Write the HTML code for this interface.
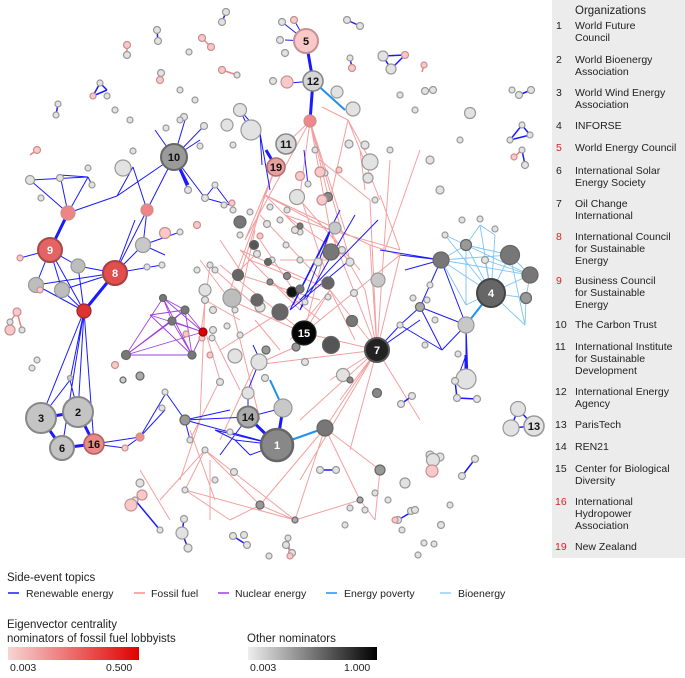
<!DOCTYPE html>
<html><head><meta charset="utf-8"><style>
body{margin:0;background:#fff;width:685px;height:673px;overflow:hidden;font-family:"Liberation Sans",sans-serif}
svg text{font-family:"Liberation Sans",sans-serif}
</style></head><body>
<svg width="685" height="673" viewBox="0 0 685 673" xmlns="http://www.w3.org/2000/svg">
<rect x="552" y="0" width="133" height="558" fill="#ececec"/>
<g font-size="10.5" fill="#222">
<text x="575" y="14" font-size="11.5">Organizations</text>
<text x="556" y="29">1</text><text x="575" y="29">World Future</text><text x="575" y="41">Council</text>
<text x="556" y="63">2</text><text x="575" y="63">World Bioenergy</text><text x="575" y="75">Association</text>
<text x="556" y="96">3</text><text x="575" y="96">World Wind Energy</text><text x="575" y="108">Association</text>
<text x="556" y="129">4</text><text x="575" y="129">INFORSE</text>
<text x="556" y="151" fill="#e02020">5</text><text x="575" y="151">World Energy Council</text>
<text x="556" y="174">6</text><text x="575" y="174">International Solar</text><text x="575" y="186">Energy Society</text>
<text x="556" y="207">7</text><text x="575" y="207">Oil Change</text><text x="575" y="219">International</text>
<text x="556" y="240" fill="#e02020">8</text><text x="575" y="240">International Council</text><text x="575" y="252">for Sustainable</text><text x="575" y="264">Energy</text>
<text x="556" y="284" fill="#e02020">9</text><text x="575" y="284">Business Council</text><text x="575" y="296">for Sustainable</text><text x="575" y="308">Energy</text>
<text x="555" y="328">10</text><text x="575" y="328">The Carbon Trust</text>
<text x="555" y="350">11</text><text x="575" y="350">International Institute</text><text x="575" y="362">for Sustainable</text><text x="575" y="374">Development</text>
<text x="555" y="395">12</text><text x="575" y="395">International Energy</text><text x="575" y="407">Agency</text>
<text x="555" y="428">13</text><text x="575" y="428">ParisTech</text>
<text x="555" y="450">14</text><text x="575" y="450">REN21</text>
<text x="555" y="472">15</text><text x="575" y="472">Center for Biological</text><text x="575" y="484">Diversity</text>
<text x="555" y="505" fill="#e02020">16</text><text x="575" y="505">International</text><text x="575" y="517">Hydropower</text><text x="575" y="529">Association</text>
<text x="555" y="550" fill="#e02020">19</text><text x="575" y="550">New Zealand</text>
</g>

<g font-size="10.5" fill="#222">
<text x="7" y="581" font-size="11.5">Side-event topics</text>
<line x1="8" y1="593" x2="19" y2="593" stroke="#1a1aff" stroke-width="1.5"/><text x="26" y="597">Renewable energy</text>
<line x1="134" y1="593" x2="145" y2="593" stroke="#f49090" stroke-width="1.5"/><text x="151" y="597">Fossil fuel</text>
<line x1="218" y1="593" x2="229" y2="593" stroke="#a040e0" stroke-width="1.5"/><text x="235" y="597">Nuclear energy</text>
<line x1="326" y1="593" x2="337" y2="593" stroke="#2090f0" stroke-width="1.5"/><text x="344" y="597">Energy poverty</text>
<line x1="440" y1="593" x2="451" y2="593" stroke="#90d0f8" stroke-width="1.5"/><text x="458" y="597">Bioenergy</text>
<text x="7" y="628" font-size="11.5">Eigenvector centrality</text>
<text x="7" y="642" font-size="11.5">nominators of fossil fuel lobbyists</text>
<text x="247" y="642" font-size="11.5">Other nominators</text>
<text x="10" y="671">0.003</text><text x="106" y="671">0.500</text>
<text x="250" y="671">0.003</text><text x="344" y="671">1.000</text>
</g>
<defs>
<linearGradient id="gr"><stop offset="0" stop-color="#f8d4d4"/><stop offset="1" stop-color="#e00000"/></linearGradient>
<linearGradient id="gk"><stop offset="0" stop-color="#eeeeee"/><stop offset="1" stop-color="#000"/></linearGradient>
</defs>
<rect x="8" y="647" width="131" height="13" fill="url(#gr)"/>
<rect x="248" y="647" width="129" height="13" fill="url(#gk)"/>

<g stroke="#f4a0a0" stroke-width="1" fill="none">
<path d="M310 121L286 144M310 121L300 195M310 121L330 230M310 121L350 260M310 121L245 240M310 121L328 195M310 121L345 230
M322 107L348 120M348 120L370 160M348 120L360 150M360 150L365 190M348 120L330 200M348 120L380 200
M276 167L265 195M276 167L245 240M276 167L230 290M265 195L240 275M265 195L300 230M265 195L330 230M265 195L370 245
M330 230L377 350M330 230L304 333M330 230L365 290M330 230L400 250M370 245L377 350M370 245L400 255M365 290L377 350
M330 290L377 350M330 290L304 333M330 290L355 340M240 250L330 290M240 250L300 310M220 265L304 333M230 300L304 333
M240 275L320 300M205 300L240 320M215 270L260 310M250 260L300 280M260 240L300 300M280 260L330 260M270 280L320 320
M220 350L300 300M215 340L240 390M230 300L260 420M205 330L220 380M255 320L280 350M290 340L330 290
M304 333L400 255M304 333L377 350M377 350L400 255M377 350L330 380M377 350L350 450M377 350L300 480M377 350L420 420
M377 350L340 400M377 350L300 420M377 350L255 365M300 345L255 365M255 365L220 440
M325 428L377 350M325 428L295 520M325 428L360 500M325 428L380 470M380 470L375 520M325 428L260 505
M295 520L360 500M360 500L375 520M295 520L205 450M205 450L260 505M260 505L295 520M205 450L185 490M185 490L295 520
M210 460L210 520M200 420L180 480M190 430L215 500M220 380L190 440M205 300L200 420M200 260L230 300M210 265L200 340
M220 240L240 270M240 270L260 250M255 230L240 300M300 195L325 270M285 215L330 230M285 215L350 260M320 160L370 200
M370 200L377 350M390 160L377 350M420 150L385 250M300 200L360 270M380 195L400 250M260 215L330 290
M185 490L230 520M230 520L260 505M140 470L170 520M205 450L160 500"/>
</g>
<g stroke="#a040e0" stroke-width="0.9" fill="none">
<path d="M163 298L185 310M163 298L203 332M163 298L172 321M163 298L192 355M185 310L203 332M185 310L192 355M185 310L172 321M172 321L203 332M172 321L192 355M192 355L203 332M126 355L203 332M126 355L185 310M126 355L163 298M126 355L192 355M126 355L172 321M150 315L203 332M150 315L185 310M150 315L192 355"/>
</g>
<g stroke="#7cc4f8" stroke-width="0.9" fill="none">
<path d="M441 260L491 293M441 260L466 245M466 245L491 293M466 245L480 225M480 225L491 293M480 225L495 235M495 235L491 293M466 245L510 255M510 255L491 293M510 255L530 275M530 275L491 293M530 275L526 298M526 298L491 293M526 298L525 325M525 325L491 293M510 255L525 325M441 260L510 255M441 260L530 275M466 245L530 275M445 235L491 293M445 235L466 245M466 305L491 293M466 305L441 260M466 305L466 245M485 260L491 293M485 260L530 275"/>
</g>
<g stroke="#2090f0" stroke-width="2" fill="none">
<path d="M466 325L491 293M277 445L325 428M313 81L345 110M283 408L270 380"/>
</g>
<g stroke="#1a1aff" stroke-width="1" fill="none">
<path d="M50 250L68 213M50 250L36 285M50 250L62 290M50 250L84 311M50 250L78 266M62 290L84 311M36 285L84 311M78 266L84 311M36 285L115 273M62 290L115 273M78 266L115 273M20 258L50 250M115 273L84 311M115 273L143 245M115 273L147 210M115 273L162 265M115 273L135 220M143 245L165 255M143 245L180 232M143 245L147 210M147 210L174 157M147 210L133 167M68 213L117 196M68 213L30 180M68 213L60 175M30 180L88 177M60 175L88 177M88 177L68 213M88 177L92 185M117 196L174 157M117 196L133 167M174 157L200 140M174 157L185 120M174 157L155 130M174 157L205 125M174 157L188 190M174 157L205 198M205 198L230 205M205 198L215 185M215 185L230 205
M84 311L41 418M84 311L78 412M84 311L62 448M84 311L70 380M70 380L41 418M70 380L78 412M84 311L94 444
M94 444L140 437M140 437L165 410M140 437L166 393M166 393L185 420M185 420L230 410M185 420L248 417M185 420L277 445M185 420L190 440M94 444L125 448M125 448L140 437
M248 417L283 408M248 417L248 390M248 390L260 360M260 360L253 345M235 440L277 445M235 440L250 455M250 455L277 445M215 430L277 445M215 430L235 440M220 455L248 417
M306 41L294 20M306 41L282 22M306 41L285 40M313 81L290 83M304 150L308 185
M240 110L260 133M240 110L248 127M248 127L260 133M260 133L262 165M260 133L270 190
M330 232L300 310M330 232L293 305M355 215L300 310M340 210L290 310M350 260L290 310M378 220L300 300
M441 260L380 250M441 260L405 270M400 255L441 260M441 260L420 307M420 307L466 325M466 325L441 260M466 325L442 350M466 325L466 355M466 355L457 380M466 325L468 380M442 350L420 307M400 325L420 307M400 325L442 350
M377 350L400 325M377 350L420 320"/>
</g>
<g stroke="#1a1aff" stroke-width="3" fill="none">
<path d="M50 250L68 213M115 273L84 311M41 418L78 412M41 418L62 448M62 448L94 444M78 412L94 444M248 417L277 445M283 408L277 445M313 81L310 121M313 81L306 41M174 157L188 185M466 375L466 355M276 167L266 150"/>
</g>

<g stroke="#1a1aff" stroke-width="1.5" fill="none">
<path d="M226 12L222 22M157 30L158 41M100 83L93 96M100 83L107 90M107 90L93 96M58 104L56 115M347 20L360 26M350 58L352 68M383 56L391 69M383 56L405 55M391 69L405 55M425 91L433 90M519 95L531 90M525 165L522 150M510 140L522 125M522 125L530 135M510 140L530 135M182 533L184 519M182 533L188 548M233 536L247 545M286 545L292 553M320 470L336 470M433 460L432 471M511 428L518 409M518 409L534 426M511 428L534 426M411 511L415 510M398 520L415 510M440 457L430 455M462 476L475 459M412 396L401 404M455 381L457 398M477 399L457 398M160 530L135 500"/>
</g>
<g stroke="#f08080" stroke-width="1.5" fill="none">
<path d="M127 45L127 55M202 38L211 47M161 73L160 80M222 70L237 75M17 312L10 322M10 322L10 330M17 312L22 330M37 150L30 155M131 505L142 495M424 65L422 72M514 157L522 150M290 556L288 538"/>
</g>

<g stroke="#999" stroke-width="1.2">
<g fill="#e2e2e2">
<circle cx="226" cy="12" r="3.5"/><circle cx="222" cy="22" r="3.5"/><circle cx="157" cy="30" r="3.5"/><circle cx="158" cy="41" r="3.5"/>
<circle cx="189" cy="52" r="3"/><circle cx="127" cy="55" r="3.5"/><circle cx="161" cy="73" r="3.5"/><circle cx="237" cy="75" r="3"/>
<circle cx="100" cy="83" r="3"/><circle cx="107" cy="96" r="3"/><circle cx="58" cy="104" r="3"/><circle cx="56" cy="115" r="3"/>
<circle cx="115" cy="110" r="3"/><circle cx="130" cy="120" r="3"/><circle cx="347" cy="20" r="3.5"/><circle cx="360" cy="26" r="3.5"/>
<circle cx="350" cy="58" r="3"/><circle cx="383" cy="56" r="5"/><circle cx="391" cy="69" r="5"/><circle cx="425" cy="91" r="3.5"/><circle cx="433" cy="90" r="3.5"/>
<circle cx="470" cy="113" r="5.5"/><circle cx="282" cy="22" r="3.5"/><circle cx="280" cy="40" r="3.5"/><circle cx="285" cy="53" r="3.5"/><circle cx="273" cy="81" r="3.5"/>
<circle cx="313" cy="81" r="10" fill="#d5d5d5" stroke="#888" stroke-width="1.6"/>
<circle cx="337" cy="92" r="6"/><circle cx="353" cy="109" r="7"/>
<circle cx="240" cy="110" r="6.5"/><circle cx="227" cy="125" r="6"/><circle cx="251" cy="130" r="10"/><circle cx="233" cy="145" r="3"/>
<circle cx="200" cy="146" r="3"/><circle cx="195" cy="100" r="3"/><circle cx="184" cy="117" r="3.5"/><circle cx="204" cy="126" r="3.5"/>
<circle cx="180" cy="90" r="3"/><circle cx="188" cy="190" r="3.5"/><circle cx="205" cy="198" r="3.5"/><circle cx="224" cy="205" r="3"/><circle cx="215" cy="185" r="3"/>
<circle cx="123" cy="168" r="8"/><circle cx="180" cy="120" r="3"/><circle cx="133" cy="151" r="3"/>
<circle cx="30" cy="180" r="4.5"/><circle cx="60" cy="178" r="3.5"/><circle cx="88" cy="168" r="3"/><circle cx="92" cy="185" r="3"/>
<circle cx="41" cy="198" r="3"/>
<circle cx="143" cy="245" r="7.5" fill="#c8c8c8"/><circle cx="162" cy="265" r="3"/><circle cx="147" cy="267" r="3"/><circle cx="180" cy="232" r="3"/>
<circle cx="166" cy="128" r="3"/>
<circle cx="36" cy="285" r="7.5" fill="#bdbdbd"/><circle cx="62" cy="290" r="7.5" fill="#bdbdbd"/><circle cx="78" cy="266" r="7" fill="#bdbdbd"/>
<circle cx="10" cy="322" r="3"/><circle cx="22" cy="330" r="3"/><circle cx="37" cy="360" r="3"/><circle cx="32" cy="368" r="3"/>
<circle cx="70" cy="378" r="2.5" fill="#ccc"/>
<circle cx="41" cy="418" r="15" fill="#c4c4c4" stroke="#888" stroke-width="2"/>
<circle cx="78" cy="412" r="15" fill="#c4c4c4" stroke="#888" stroke-width="2"/>
<circle cx="62" cy="448" r="12" fill="#c4c4c4" stroke="#888" stroke-width="2"/>
<circle cx="162" cy="408" r="3"/><circle cx="165" cy="392" r="3"/>
<circle cx="286" cy="144" r="10" fill="#d5d5d5" stroke="#888" stroke-width="1.6"/>
<circle cx="297" cy="197" r="7.5"/><circle cx="308" cy="184" r="3"/><circle cx="370" cy="162" r="8"/><circle cx="365" cy="145" r="4"/><circle cx="349" cy="144" r="4"/>
<circle cx="368" cy="178" r="5"/><circle cx="325" cy="173" r="3"/><circle cx="315" cy="150" r="3"/>
<circle cx="400" cy="95" r="3"/><circle cx="415" cy="110" r="3"/>
<circle cx="240" cy="235" r="3"/><circle cx="215" cy="270" r="3"/><circle cx="210" cy="265" r="3"/><circle cx="197" cy="270" r="3"/>
<circle cx="205" cy="290" r="6"/><circle cx="232" cy="298" r="9" fill="#bdbdbd"/><circle cx="213" cy="310" r="3.5"/><circle cx="213" cy="330" r="3.5"/><circle cx="205" cy="300" r="3.5"/>
<circle cx="233" cy="210" r="3"/><circle cx="250" cy="212" r="3"/><circle cx="280" cy="220" r="3"/><circle cx="300" cy="232" r="3"/>
<circle cx="272" cy="260" r="3"/><circle cx="295" cy="230" r="3.5"/><circle cx="257" cy="254" r="3.5"/><circle cx="267" cy="224" r="3.5"/>
<circle cx="270" cy="207" r="3"/><circle cx="287" cy="210" r="3"/><circle cx="300" cy="260" r="3"/><circle cx="286" cy="245" r="3"/>
<circle cx="305" cy="302" r="3"/><circle cx="318" cy="262" r="4"/><circle cx="342" cy="250" r="3.5"/><circle cx="260" cy="307" r="5"/>
<circle cx="235" cy="310" r="3"/><circle cx="227" cy="326" r="3"/><circle cx="240" cy="335" r="3"/><circle cx="212" cy="338" r="3"/>
<circle cx="235" cy="356" r="7"/><circle cx="259" cy="362" r="8"/><circle cx="220" cy="382" r="3.5"/><circle cx="248" cy="393" r="6"/>
<circle cx="283" cy="408" r="9" fill="#c8c8c8"/><circle cx="265" cy="378" r="3.5"/><circle cx="328" cy="297" r="3"/><circle cx="354" cy="293" r="3.5"/>
<circle cx="305" cy="362" r="3.5"/><circle cx="343" cy="375" r="6.5"/><circle cx="350" cy="262" r="4"/>
<circle cx="430" cy="160" r="4"/><circle cx="440" cy="190" r="4"/><circle cx="460" cy="140" r="3"/><circle cx="390" cy="150" r="3"/>
<circle cx="375" cy="200" r="3"/><circle cx="335" cy="228" r="6" fill="#c8c8c8"/><circle cx="378" cy="280" r="7" fill="#c8c8c8"/>
<circle cx="413" cy="298" r="3"/><circle cx="430" cy="285" r="3"/><circle cx="427" cy="300" r="3"/><circle cx="420" cy="306" r="3"/>
<circle cx="466" cy="325" r="8" fill="#c8c8c8"/><circle cx="458" cy="354" r="3"/><circle cx="466" cy="379" r="10"/>
<circle cx="455" cy="381" r="3.5"/><circle cx="457" cy="398" r="3.5"/><circle cx="477" cy="399" r="3.5"/>
<circle cx="445" cy="235" r="3"/><circle cx="462" cy="220" r="3"/><circle cx="485" cy="260" r="3.5"/><circle cx="480" cy="219" r="3"/>
<circle cx="495" cy="229" r="3"/><circle cx="400" cy="325" r="3"/>
<circle cx="435" cy="320" r="3"/><circle cx="425" cy="345" r="3"/>
<circle cx="518" cy="409" r="7.5"/><circle cx="511" cy="428" r="8"/><circle cx="534" cy="426" r="10" stroke-width="1.6"/>
<circle cx="430" cy="455" r="4"/><circle cx="440" cy="457" r="4"/><circle cx="462" cy="476" r="3.5"/><circle cx="475" cy="459" r="3.5"/>
<circle cx="405" cy="483" r="5"/><circle cx="411" cy="511" r="3.5"/><circle cx="412" cy="396" r="3.5"/><circle cx="401" cy="404" r="3.5"/>
<circle cx="433" cy="460" r="6.5"/><circle cx="525" cy="165" r="3.5"/><circle cx="522" cy="150" r="3"/>
<circle cx="522" cy="125" r="3"/><circle cx="510" cy="140" r="3"/><circle cx="530" cy="135" r="3"/>
<circle cx="519" cy="95" r="3.5"/><circle cx="531" cy="90" r="3.5"/><circle cx="512" cy="90" r="3"/>
<circle cx="375" cy="493" r="3"/><circle cx="388" cy="500" r="3"/>
<circle cx="350" cy="508" r="3"/><circle cx="345" cy="525" r="3"/><circle cx="365" cy="510" r="3"/>
<circle cx="415" cy="510" r="3.5"/><circle cx="398" cy="520" r="3.5"/><circle cx="441" cy="525" r="3.5"/><circle cx="450" cy="505" r="3"/>
<circle cx="215" cy="480" r="3"/><circle cx="234" cy="472" r="3.5"/><circle cx="244" cy="535" r="3.5"/><circle cx="182" cy="533" r="6"/>
<circle cx="188" cy="548" r="4"/><circle cx="184" cy="519" r="3.5"/><circle cx="286" cy="545" r="3.5"/><circle cx="292" cy="553" r="3.5"/>
<circle cx="233" cy="536" r="3.5"/><circle cx="247" cy="545" r="3.5"/><circle cx="269" cy="556" r="3"/><circle cx="288" cy="538" r="3"/>
<circle cx="160" cy="530" r="3"/><circle cx="320" cy="470" r="3.5"/><circle cx="336" cy="470" r="3.5"/>
<circle cx="402" cy="530" r="3"/><circle cx="418" cy="555" r="3"/><circle cx="434" cy="544" r="3"/><circle cx="424" cy="543" r="3"/>
<circle cx="190" cy="440" r="3"/><circle cx="185" cy="490" r="3"/><circle cx="205" cy="450" r="3"/><circle cx="230" cy="432" r="3"/>
<circle cx="140" cy="483" r="4"/><circle cx="135" cy="500" r="3"/>
</g>
<g fill="#8a8a8a" stroke="#666">
<circle cx="174" cy="157" r="13" fill="#9a9a9a" stroke="#666" stroke-width="2"/>
<circle cx="240" cy="222" r="6" fill="#777"/><circle cx="254" cy="245" r="4.5" fill="#555"/><circle cx="268" cy="262" r="3.5" fill="#666"/>
<circle cx="238" cy="275" r="5.5" fill="#666"/><circle cx="257" cy="300" r="6" fill="#666"/><circle cx="300" cy="226" r="3" fill="#777"/>
<circle cx="287" cy="276" r="3.5" fill="#888"/><circle cx="270" cy="282" r="3" fill="#888"/>
<circle cx="292" cy="292" r="5" fill="#111" stroke="#333"/>
<circle cx="280" cy="312" r="8" fill="#666"/><circle cx="331" cy="252" r="8" fill="#777"/><circle cx="328" cy="283" r="6" fill="#666"/>
<circle cx="331" cy="345" r="8.5" fill="#555"/><circle cx="352" cy="321" r="5.5" fill="#777"/><circle cx="300" cy="289" r="4" fill="#777"/>
<circle cx="328" cy="197" r="4.5"/><circle cx="296" cy="347" r="4" fill="#999"/><circle cx="266" cy="350" r="4" fill="#999"/>
<circle cx="441" cy="260" r="8" fill="#777"/><circle cx="510" cy="255" r="9.5" fill="#777"/><circle cx="530" cy="275" r="8" fill="#777"/>
<circle cx="526" cy="298" r="5.5" fill="#999"/><circle cx="466" cy="245" r="5.5" fill="#999"/><circle cx="420" cy="307" r="4.5" fill="#aaa"/>
<circle cx="325" cy="428" r="8" fill="#777"/><circle cx="377" cy="393" r="4.5" fill="#888"/><circle cx="350" cy="380" r="3" fill="#888"/>
<circle cx="163" cy="298" r="3.5" fill="#777"/><circle cx="185" cy="310" r="4" fill="#777"/><circle cx="172" cy="321" r="4" fill="#777"/>
<circle cx="192" cy="355" r="4" fill="#777"/><circle cx="126" cy="355" r="4.5" fill="#777"/><circle cx="140" cy="376" r="4" fill="#aaa"/><circle cx="123" cy="380" r="3" fill="#ccc"/>
<circle cx="185" cy="420" r="5" fill="#999"/><circle cx="260" cy="505" r="4" fill="#999"/>
<circle cx="295" cy="520" r="3" fill="#aaa"/><circle cx="360" cy="500" r="3" fill="#aaa"/><circle cx="380" cy="470" r="5" fill="#999"/>
</g>
<g fill="#f9c8c8" stroke="#c89090">
<circle cx="306" cy="41" r="12" stroke-width="2"/><circle cx="294" cy="20" r="3.5"/><circle cx="287" cy="82" r="6"/>
<circle cx="127" cy="45" r="3.5"/><circle cx="202" cy="38" r="3.5"/><circle cx="211" cy="47" r="3.5"/><circle cx="93" cy="96" r="3"/>
<circle cx="222" cy="70" r="3.5"/><circle cx="352" cy="68" r="3.5"/><circle cx="405" cy="55" r="3.5"/><circle cx="37" cy="150" r="3.5"/>
<circle cx="17" cy="312" r="4"/><circle cx="10" cy="330" r="5"/><circle cx="115" cy="365" r="3.5"/>
<circle cx="20" cy="258" r="3"/><circle cx="165" cy="233" r="5.5"/><circle cx="197" cy="225" r="3.5"/><circle cx="160" cy="80" r="3.5"/>
<circle cx="202" cy="338" r="3"/><circle cx="210" cy="355" r="3"/><circle cx="186" cy="334" r="3"/>
<circle cx="339" cy="170" r="3"/><circle cx="320" cy="172" r="5"/><circle cx="300" cy="176" r="4.5"/>
<circle cx="260" cy="236" r="3"/><circle cx="232" cy="203" r="3"/><circle cx="322" cy="200" r="5"/>
<circle cx="131" cy="505" r="6"/><circle cx="142" cy="495" r="5"/><circle cx="432" cy="471" r="6"/><circle cx="395" cy="520" r="3"/>
<circle cx="290" cy="556" r="3"/><circle cx="424" cy="65" r="3"/><circle cx="514" cy="157" r="3"/><circle cx="125" cy="448" r="3"/>
<circle cx="40" cy="290" r="3"/>
<circle cx="276" cy="167" r="9" fill="#eba0a0" stroke="#b07070" stroke-width="1.6"/>
<circle cx="94" cy="444" r="10" fill="#e88888" stroke="#b06060" stroke-width="1.6"/>
<circle cx="68" cy="213" r="7" fill="#ee8484"/><circle cx="147" cy="210" r="6" fill="#ee8484"/><circle cx="140" cy="437" r="4" fill="#ee9090"/>
<circle cx="310" cy="121" r="6" fill="#ef8888"/>
<circle cx="50" cy="250" r="12" fill="#e46464" stroke="#a84848" stroke-width="2"/>
<circle cx="115" cy="273" r="12" fill="#e24e4e" stroke="#a84040" stroke-width="2"/>
<circle cx="84" cy="311" r="7" fill="#dd3333" stroke="#a02828"/>
<circle cx="203" cy="332" r="4" fill="#dd0000" stroke="#a00000"/>
</g>
<circle cx="277" cy="445" r="16" fill="#888" stroke="#666" stroke-width="2.5"/>
<circle cx="248" cy="417" r="10.5" fill="#ababab" stroke="#777" stroke-width="2"/>
<circle cx="491" cy="293" r="14" fill="#666" stroke="#444" stroke-width="2"/>
<circle cx="304" cy="333" r="12" fill="#050505" stroke="#222"/>
<circle cx="377" cy="350" r="12" fill="#222" stroke="#555" stroke-width="2"/>
</g>
<g font-weight="bold" font-size="11" text-anchor="middle">
<text x="306" y="45" fill="#111">5</text>
<text x="313" y="85" fill="#111">12</text>
<text x="286" y="148" fill="#111">11</text>
<text x="276" y="171" fill="#111">19</text>
<text x="174" y="161" fill="#111">10</text>
<text x="50" y="254" fill="#fff">9</text>
<text x="115" y="277" fill="#fff">8</text>
<text x="491" y="297" fill="#fff">4</text>
<text x="304" y="337" fill="#fff">15</text>
<text x="377" y="354" fill="#fff">7</text>
<text x="248" y="421" fill="#111">14</text>
<text x="277" y="449" fill="#fff">1</text>
<text x="41" y="422" fill="#111">3</text>
<text x="78" y="416" fill="#111">2</text>
<text x="62" y="452" fill="#111">6</text>
<text x="94" y="448" fill="#111">16</text>
<text x="534" y="430" fill="#111">13</text>
</g>
</svg>
</body></html>
